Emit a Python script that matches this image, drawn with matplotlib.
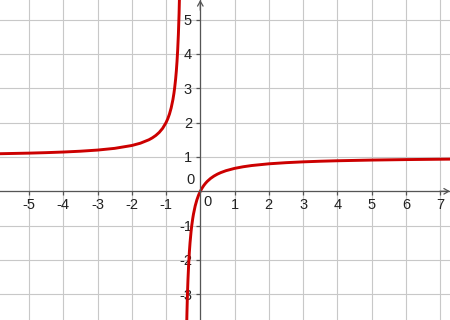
import matplotlib
matplotlib.use("Agg")
import matplotlib.pyplot as plt

# left branch (x < asymptote)
left_x = [-5.9, -5.0, -4.5, -4.0, -3.5, -3.0, -2.5, -2.0, -1.75, -1.5, -1.4, -1.3, -1.2,
          -1.1, -1.0, -0.95, -0.9, -0.85, -0.8, -0.77, -0.75, -0.72, -0.7, -0.68,
          -0.66, -0.64, -0.62, -0.6]
left_y = [1.093, 1.111, 1.125, 1.143, 1.167, 1.2, 1.25, 1.333, 1.4, 1.5, 1.556, 1.625, 1.714,
          1.833, 2.0, 2.111, 2.25, 2.429, 2.667, 2.852, 3.0, 3.273, 3.5, 3.778,
          4.125, 4.571, 5.167, 6.0]

# right branch
right_x = [-0.4, -0.39, -0.38, -0.37, -0.36, -0.34, -0.32, -0.3, -0.27, -0.25, -0.22, -0.2,
           -0.15, -0.1, -0.05, 0.0, 0.05, 0.1, 0.15, 0.2, 0.3, 0.4, 0.5, 0.6, 0.75, 1.0,
           1.25, 1.5, 2.0, 2.5, 3.0, 3.5, 4.0, 5.0, 6.0, 7.4]
right_y = [-4.0, -3.545, -3.167, -2.846, -2.571, -2.125, -1.778, -1.5, -1.174, -1.0, -0.786,
           -0.667, -0.429, -0.25, -0.111, 0.0, 0.091, 0.167, 0.231, 0.286, 0.375, 0.444,
           0.5, 0.545, 0.6, 0.667, 0.714, 0.75, 0.8, 0.833, 0.857, 0.875, 0.889, 0.909,
           0.923, 0.937]

x_ticks = [-5, -4, -3, -2, -1, 1, 2, 3, 4, 5, 6, 7]
y_ticks = [-3, -2, -1, 1, 2, 3, 4, 5]

XLIM = (-5.848, 7.29)
YLIM = (-3.747, 5.569)
AXIS_COLOR = "#555555"
CURVE_COLOR = "#cc0000"
FS = 10.5

plt.rcParams["font.family"] = ["Liberation Sans", "DejaVu Sans"]

fig = plt.figure(figsize=(4.5, 3.2), dpi=100)
ax = fig.add_axes([0, 0, 1, 1])
ax.set_xlim(XLIM)
ax.set_ylim(YLIM)

# grid at every integer
for gx in range(-6, 8):
    ax.axvline(gx, color="#c8c8c8", linewidth=0.8, zorder=0)
for gy in range(-4, 6):
    ax.axhline(gy, color="#c8c8c8", linewidth=0.8, zorder=0)

for side in ["top", "right"]:
    ax.spines[side].set_visible(False)
ax.spines["left"].set_position(("data", 0))
ax.spines["bottom"].set_position(("data", 0))
for side in ["left", "bottom"]:
    ax.spines[side].set_color(AXIS_COLOR)
    ax.spines[side].set_linewidth(0.9)

ax.set_xticks(x_ticks)
ax.set_yticks(y_ticks)
ax.set_xticklabels([str(t) for t in x_ticks])
ax.set_yticklabels([str(t) for t in y_ticks])
ax.tick_params(axis="both", direction="out", length=3, width=0.9, color=AXIS_COLOR,
               labelsize=FS, labelcolor="#222222")
ax.tick_params(axis="x", pad=1.5)
ax.tick_params(axis="y", pad=3)

# zero labels
ax.text(0.2, -0.12, "0", ha="center", va="top", fontsize=FS, color="#222222")
ax.text(-0.16, 0.12, "0", ha="right", va="bottom", fontsize=FS, color="#222222")

# arrow heads on the axes
ax.annotate("", xy=(XLIM[1], 0), xytext=(XLIM[1] - 0.3, 0),
            arrowprops=dict(arrowstyle="->,head_length=0.35,head_width=0.2",
                            color=AXIS_COLOR, lw=0.9, shrinkA=0, shrinkB=0))
ax.annotate("", xy=(0, YLIM[1]), xytext=(0, YLIM[1] - 0.3),
            arrowprops=dict(arrowstyle="->,head_length=0.35,head_width=0.2",
                            color=AXIS_COLOR, lw=0.9, shrinkA=0, shrinkB=0))

ax.plot(left_x, left_y, color=CURVE_COLOR, linewidth=2.1, solid_capstyle="round")
ax.plot(right_x, right_y, color=CURVE_COLOR, linewidth=2.1, solid_capstyle="round")

fig.savefig("out.png", dpi=100)
